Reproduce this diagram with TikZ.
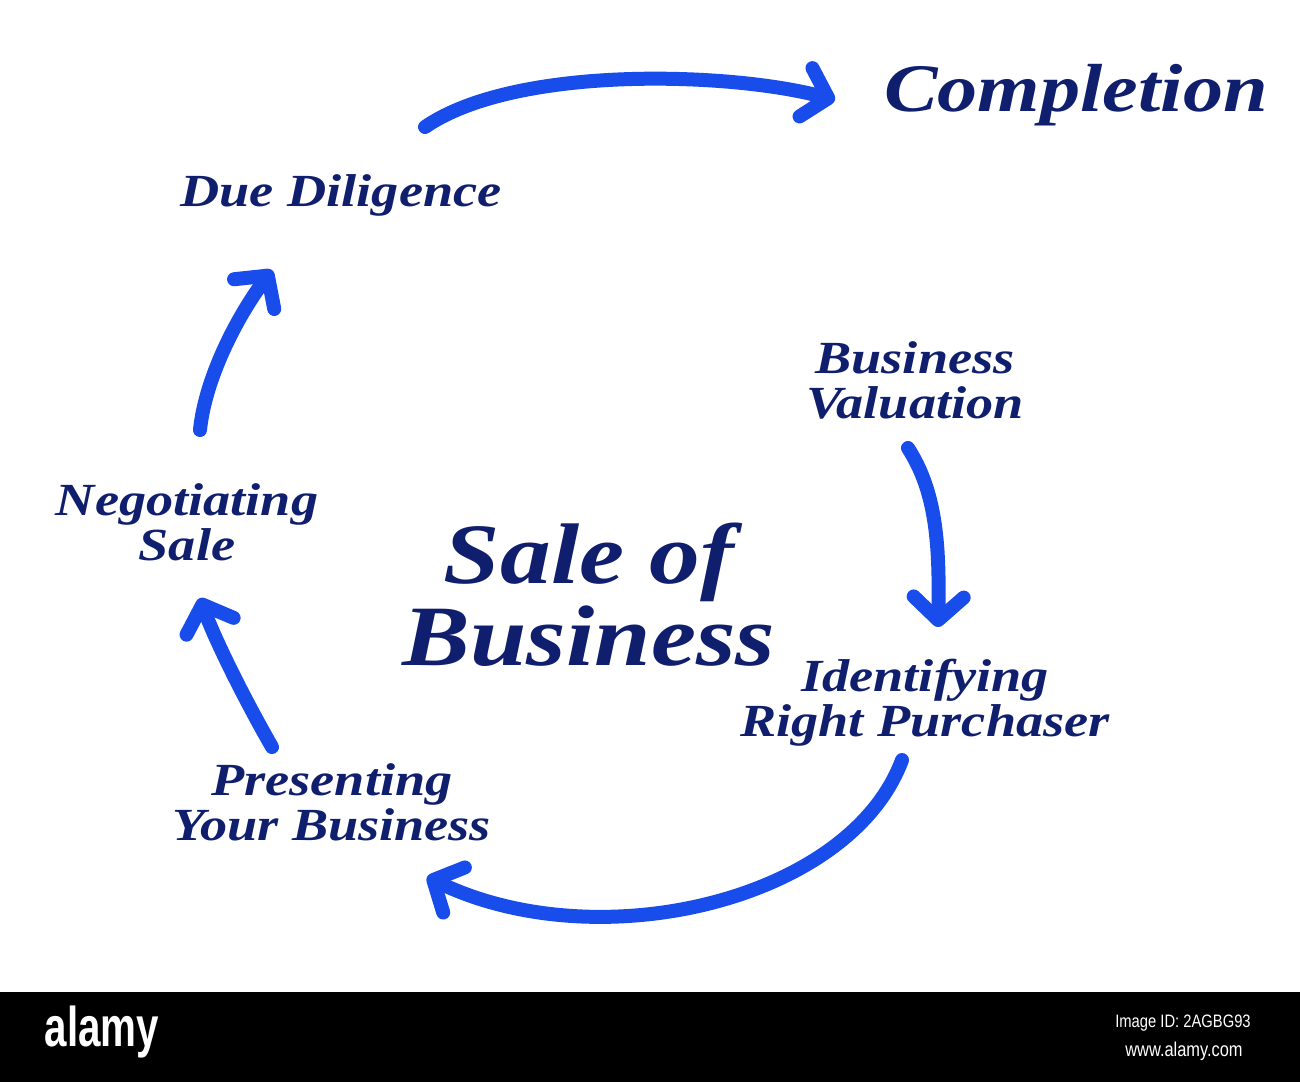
\documentclass[tikz,border=0pt]{standalone}
\usepackage{fontspec}
\setmainfont{Liberation Serif}
\newfontfamily\handf{Liberation Serif}[FakeStretch=1.18]
\newfontfamily\barfont{Liberation Sans}
\usetikzlibrary{arrows.meta}
\definecolor{ink}{RGB}{16,30,110}
\definecolor{arr}{RGB}{24,76,235}
\tikzset{
  lbl/.style={text=ink, align=center, inner sep=0pt, font=\handf\fontsize{46}{45}\selectfont\bfseries\itshape},
  biglbl/.style={text=ink, align=center, inner sep=0pt, font=\handf\fontsize{86}{82}\selectfont\bfseries\itshape},
  complbl/.style={text=ink, inner sep=0pt, font=\handf\fontsize{68}{68}\selectfont\bfseries\itshape},
  flow/.style={draw=arr, line width=14pt, line cap=round,
    -{Straight Barb[round,length=23pt,width=50pt]}},
  bartext/.style={text=white, inner sep=0pt}
}
\begin{document}
\begin{tikzpicture}[x=1pt,y=-1pt]
\useasboundingbox (0,0) rectangle (1300,1082);
\fill[white] (0,0) rectangle (1300,992);
\fill[black] (0,992) rectangle (1300,1082);

% labels
\node[complbl] (comp) at (1076,95) {Completion};
\node[lbl] (dd) at (341,195) {Due Diligence};
\node[lbl] (bv) at (915,380) {Business\\Valuation};
\node[lbl] (irp) at (925,703) {Identifying\\Right Purchaser};
\node[lbl] (pyb) at (332,802) {Presenting\\Your Business};
\node[lbl] (ns) at (187,522) {Negotiating\\Sale};
\node[biglbl] (sob) at (589,595) {Sale of\\Business};

% connector end points
\coordinate (c1s) at (425,127);
\coordinate (c1e) at (835,100);
\coordinate (c2s) at (200,430);
\coordinate (c2e) at (272,270);
\coordinate (c3s) at (908,448);
\coordinate (c3e) at (938,627);
\coordinate (c4s) at (902,760);
\coordinate (c4e) at (427,877);
\coordinate (c5s) at (272,747);
\coordinate (c5e) at (200,598);

\draw[flow] (c1s) .. controls (515,65) and (730,72) .. (c1e);
\draw[flow] (c2s) .. controls (205,380) and (235,320) .. (c2e);
\draw[flow] (c3s) .. controls (935,490) and (940,540) .. (c3e);
\draw[flow] (c4s) .. controls (850,900) and (600,960) .. (c4e);
\draw[flow] (c5s) .. controls (245,700) and (215,640) .. (c5e);

% footer
\node[bartext, font=\fontsize{56}{56}\selectfont\barfont\bfseries] (alamy) at (102,1032) {\scalebox{0.72}[1]{alamy}};
\node[bartext, font=\fontsize{18}{18}\selectfont\barfont] (imgid) at (1183,1023) {\scalebox{0.82}[1]{Image ID: 2AGBG93}};
\node[bartext, font=\fontsize{20}{20}\selectfont\barfont] (www) at (1184,1051) {\scalebox{0.82}[1]{www.alamy.com}};
\end{tikzpicture}
\end{document}
